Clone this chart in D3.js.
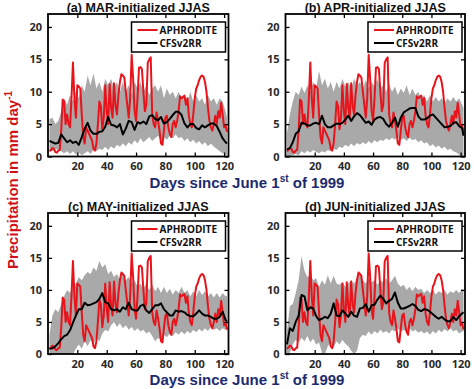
<!DOCTYPE html>
<html><head><meta charset="utf-8">
<script src="https://cdn.jsdelivr.net/npm/d3@7/dist/d3.min.js"></script>
<style>body{margin:0;background:#fff}svg{display:block}</style>
</head><body>
<svg id="c" width="474" height="389"></svg>
<script>
// ---------- DATA ----------
const days = d3.range(1, 123); // day index 1..122 (JJAS)
const bandDays = d3.range(1, 122, 2).concat([122]);
const xTicks = [20, 40, 60, 80, 100, 120];
const yTicks = [0, 5, 10, 15, 20];
const titles = ["(a) MAR-initialized JJAS", "(b) APR-initialized JJAS", "(c) MAY-initialized JJAS", "(d) JUN-initialized JJAS"];
const seriesNames = ["APHRODITE", "CFSv2RR"];

const aphrodite = [
  0.8,1.0,1.3,1.2,0.7,0.6,0.9,1.0,4.0,8.8,
  8.5,5.0,6.5,5.0,4.5,9.0,14.5,9.0,6.0,11.0,
  10.8,10.5,6.5,3.0,2.0,4.5,4.0,3.5,3.0,2.5,
  1.2,0.9,2.0,5.0,8.5,7.8,4.2,6.0,11.0,7.0,
  5.0,11.2,7.5,6.0,11.3,7.8,6.5,9.5,11.5,12.7,
  12.5,12.2,10.0,8.0,6.0,9.0,15.7,12.0,7.0,5.5,
  9.0,13.7,13.8,13.5,10.0,7.0,8.0,14.5,15.0,15.3,
  6.5,5.0,4.5,6.8,5.5,4.0,2.0,1.8,4.0,6.0,
  6.3,4.5,3.5,3.0,5.0,5.5,4.5,5.5,7.0,9.3,
  9.0,9.2,9.4,8.0,9.0,6.3,5.0,4.5,6.5,9.0,
  10.5,11.0,11.8,12.3,12.5,12.3,11.5,10.0,7.5,5.5,
  4.5,4.0,5.0,6.3,5.0,7.0,6.0,8.3,6.5,4.5,
  4.8,3.8];

// CFSv2RR ensemble mean (at bandDays)
const cfsMar = [2.4,2.2,2.0,2.1,3.4,2.8,2.2,2.5,2.1,2.3,1.8,3.0,4.3,5.2,4.0,3.5,3.5,3.8,3.9,4.6,6.1,4.9,4.8,4.5,5.0,3.4,4.3,5.5,5.3,4.1,5.3,5.1,5.4,5.0,6.2,6.4,5.8,5.6,6.1,5.1,5.3,5.8,6.4,6.9,6.9,6.4,5.1,4.5,5.0,5.0,4.4,4.2,4.8,4.5,4.8,5.1,5.1,4.7,3.8,2.8,2.2,2.0];
const cfsApr = [1.1,1.3,2.2,3.5,3.9,5.2,5.1,4.8,4.8,5.1,5.2,5.0,6.3,5.0,4.5,4.5,4.8,5.1,5.0,5.2,5.7,6.3,5.5,6.2,6.7,6.4,5.8,5.2,5.4,4.9,5.7,6.0,6.1,5.8,5.0,4.6,5.2,6.0,4.6,6.0,6.8,7.1,7.4,7.5,7.5,6.2,5.7,5.7,5.9,6.3,6.5,6.0,5.5,5.0,4.5,4.6,4.7,5.2,5.3,4.7,4.4,3.2];
const cfsMay = [0.8,0.9,1.2,1.7,2.3,2.8,3.0,3.7,4.9,6.0,7.0,7.0,8.0,7.6,7.7,7.9,8.1,8.6,9.5,8.1,7.9,7.0,6.8,7.0,6.6,7.3,7.0,8.0,7.0,6.8,6.8,7.5,7.7,6.8,6.4,7.0,7.6,7.6,7.9,7.0,6.5,6.0,6.0,6.8,6.6,6.7,6.5,6.1,5.9,5.9,6.3,6.8,6.3,6.0,6.0,5.8,5.5,5.5,5.8,6.6,5.3,5.1];
const cfsJun = [1.5,4.0,3.6,5.0,6.0,9.2,9.0,6.8,7.3,7.1,5.9,5.3,5.5,5.8,5.6,6.3,7.9,6.0,5.9,6.8,6.3,5.8,6.6,6.0,5.8,7.1,7.2,7.8,6.6,7.6,7.7,8.5,9.1,8.6,7.9,8.3,8.6,9.6,8.0,7.1,7.1,7.3,7.5,7.8,7.5,6.9,6.7,7.0,6.9,6.6,6.2,5.8,5.5,5.8,5.4,5.1,5.1,5.8,5.3,5.9,6.3,6.5];

// ensemble spread (lower / upper)
const lowMar = [1.0,0.8,1.2,1.0,0.8,0.5,0.8,0.4,0.8,0.3,0.6,0.2,0.5,0.8,0.4,1.0,0.8,1.2,1.0,1.5,1.0,1.6,1.2,1.8,1.5,2.0,1.6,2.2,1.8,2.5,2.0,2.8,2.2,2.6,3.0,2.4,2.8,3.2,2.5,3.0,2.6,3.2,2.8,3.4,2.8,3.0,2.4,2.8,2.2,2.6,2.0,2.4,1.8,2.2,1.6,2.0,1.5,1.2,0.8,0.5,0.3,0.2];
const upMar = [5.8,6.0,5.0,5.5,7.0,9.0,8.0,9.5,8.5,10.0,9.0,11.0,10.0,12.5,11.0,12.8,10.5,11.5,10.0,12.0,11.0,12.0,10.5,11.5,10.0,11.5,10.0,11.0,9.5,11.5,10.5,11.5,10.0,11.0,9.5,10.5,11.0,10.0,11.0,9.0,10.5,9.5,10.0,9.0,10.0,9.0,9.5,8.5,10.0,8.5,9.5,8.5,9.0,8.0,9.5,8.5,9.0,8.0,9.0,8.5,7.0,6.0];
const lowApr = [0.1,0.0,0.2,0.4,0.2,0.8,0.5,0.9,0.6,1.0,0.7,0.5,0.8,0.6,1.0,0.8,1.2,1.0,1.5,1.3,1.8,1.5,2.0,1.6,2.1,1.8,2.2,1.9,2.4,2.0,2.5,2.2,2.6,2.4,2.8,2.5,2.9,2.6,3.0,2.6,2.8,2.4,2.9,2.5,2.7,2.2,2.5,2.0,2.2,1.6,1.9,1.4,1.7,1.2,1.5,1.0,1.2,0.8,0.6,0.3,0.1,0.0];
const upApr = [3.5,6.5,8.5,10.0,9.5,10.8,9.8,11.0,10.0,11.5,10.5,13.2,11.0,12.0,10.5,11.5,10.0,11.5,10.5,12.0,10.8,11.5,10.5,12.0,11.0,11.5,10.5,11.8,10.5,11.5,10.8,12.0,10.5,11.0,10.0,11.2,10.0,10.8,9.5,10.5,9.8,11.0,9.5,10.5,9.5,10.0,9.0,9.5,8.5,9.5,8.5,9.2,8.5,9.0,8.2,9.0,8.5,9.2,8.5,9.0,8.0,7.5];
const lowMay = [0,0,0,0,0,0,0,0,0,0.8,1.5,0.8,2.0,1.2,2.2,1.5,2.5,2.0,3.2,3.8,3.5,4.5,5.0,4.2,4.8,4.0,4.5,3.8,4.2,3.6,4.0,3.5,3.8,3.2,3.5,2.8,2.0,2.5,2.2,3.0,2.6,3.2,2.8,3.4,3.0,3.5,3.1,3.6,3.2,3.8,3.4,3.9,3.5,4.0,3.6,4.2,3.8,4.0,3.6,4.0,3.8,3.8];
const upMay = [3.0,6.0,7.0,6.5,7.8,9.0,10.0,9.5,10.8,11.0,12.0,11.5,12.3,12.8,12.5,13.5,13.0,14.5,13.5,14.0,12.5,13.0,12.0,12.5,11.5,12.8,11.5,12.0,11.0,11.5,10.5,11.0,10.2,11.0,10.0,10.8,9.8,10.5,9.5,10.5,9.5,10.2,9.3,10.0,9.5,10.5,9.5,10.0,9.0,9.8,9.0,10.0,9.2,9.8,9.0,9.5,8.8,9.5,8.8,9.5,9.0,9.0];
const lowJun = [0,0.2,1.5,2.2,1.8,2.5,2.0,2.8,1.8,2.4,1.5,1.8,0.2,0.0,1.2,1.8,1.0,2.0,1.5,2.2,1.6,1.2,0.5,0.0,0.5,2.5,3.0,2.8,3.5,3.0,3.6,3.2,3.8,3.3,3.6,3.2,3.8,3.5,4.0,3.5,3.8,3.4,4.0,3.5,3.8,3.3,3.6,3.2,3.5,3.0,3.6,3.2,3.8,3.4,3.9,3.5,4.0,3.5,3.8,3.2,3.5,3.5];
const upJun = [3.5,7.5,7.8,9.5,11.5,15.3,13.0,12.0,12.3,11.5,11.8,10.5,11.5,10.8,12.3,11.0,12.2,11.0,10.8,11.2,10.5,11.0,11.5,11.0,11.8,12.5,11.5,11.0,11.8,11.2,11.5,10.8,11.5,11.2,11.8,11.0,11.5,12.2,11.0,10.5,10.8,10.0,10.5,9.8,10.5,10.0,10.2,9.5,10.0,9.5,10.0,9.3,9.8,9.5,10.0,9.3,9.8,9.5,10.0,9.5,10.2,10.0];

// ---------- LAYOUT / STYLE ----------
const boxes = [
  {l: 48, r: 228.5, t: 14, b: 156.5},
  {l: 285.5, r: 465, t: 14, b: 156.5},
  {l: 48, r: 228.5, t: 213, b: 354},
  {l: 285.5, r: 465, t: 213, b: 354}
];
const cfsList = [cfsMar, cfsApr, cfsMay, cfsJun];
const lowList = [lowMar, lowApr, lowMay, lowJun];
const upList = [upMar, upApr, upMay, upJun];
const RED = "#e8141c", GREY = "#a9a9a9";
const tickFont = "'Open Sans', sans-serif";
const arial = "'Liberation Sans', Arial, sans-serif";

const svg = d3.select("#c");
const defs = svg.append("defs");

boxes.forEach((bx, i) => {
  const x = d3.scaleLinear().domain([0, 123]).range([bx.l, bx.r]);
  const y = d3.scaleLinear().domain([0, 22]).range([bx.b, bx.t]);
  const g = svg.append("g");
  defs.append("clipPath").attr("id", "clip" + i)
    .append("rect").attr("x", bx.l).attr("y", bx.t).attr("width", bx.r - bx.l).attr("height", bx.b - bx.t);
  const pg = g.append("g").attr("clip-path", `url(#clip${i})`);

  const band = bandDays.map((d, k) => ({d, lo: lowList[i][k], hi: upList[i][k]}));
  pg.append("path").datum(band)
    .attr("d", d3.area().x(p => x(p.d)).y0(p => y(p.lo)).y1(p => y(p.hi)))
    .attr("fill", GREY).attr("stroke", "none");

  pg.append("path").datum(days.map((d, k) => [d, aphrodite[k]]))
    .attr("d", d3.line().x(p => x(p[0])).y(p => y(p[1])))
    .attr("fill", "none").attr("stroke", RED).attr("stroke-width", 2).attr("stroke-linejoin", "round");

  pg.append("path").datum(bandDays.map((d, k) => [d, cfsList[i][k]]))
    .attr("d", d3.line().x(p => x(p[0])).y(p => y(p[1])))
    .attr("fill", "none").attr("stroke", "#000").attr("stroke-width", 2).attr("stroke-linejoin", "round");

  // axes
  const ax = (sel) => {
    sel.select(".domain").remove();
    sel.selectAll(".tick line").attr("stroke", "#000").attr("stroke-width", 1.3);
    sel.selectAll(".tick text").attr("fill", "#2a2a2a").attr("font-family", tickFont)
      .attr("font-weight", 700).attr("font-size", 11);
  };
  g.append("g").attr("transform", `translate(0,${bx.b})`)
    .call(d3.axisBottom(x).tickValues(xTicks).tickSize(-4).tickPadding(6)).call(ax);
  g.append("g").attr("transform", `translate(0,${bx.t})`)
    .call(d3.axisTop(x).tickValues(xTicks).tickSize(-4).tickFormat("")).call(ax);
  g.append("g").attr("transform", `translate(${bx.l},0)`)
    .call(d3.axisLeft(y).tickValues(yTicks).tickSize(-4).tickPadding(6)).call(ax);
  g.append("g").attr("transform", `translate(${bx.r},0)`)
    .call(d3.axisRight(y).tickValues(yTicks).tickSize(-4).tickFormat("")).call(ax);

  g.append("rect").attr("x", bx.l).attr("y", bx.t).attr("width", bx.r - bx.l).attr("height", bx.b - bx.t)
    .attr("fill", "none").attr("stroke", "#000").attr("stroke-width", 1.8);

  // title
  g.append("text").attr("x", (bx.l + bx.r) / 2).attr("y", bx.t - 2.3)
    .attr("text-anchor", "middle").attr("font-family", arial).attr("font-weight", 700)
    .attr("font-size", 12.5).attr("fill", "#111").text(titles[i]);

  // legend
  const lx = bx.r - 97, ly = bx.t + 8, lw = 94, lh = 30;
  const lg = g.append("g");
  lg.append("rect").attr("x", lx).attr("y", ly).attr("width", lw).attr("height", lh)
    .attr("fill", "#fff").attr("stroke", "#000").attr("stroke-width", 1.5);
  [RED, "#000"].forEach((c, k) => {
    const yy = ly + 8 + k * 13;
    lg.append("line").attr("x1", lx + 6).attr("x2", lx + 26).attr("y1", yy).attr("y2", yy)
      .attr("stroke", c).attr("stroke-width", 2);
    lg.append("text").attr("x", lx + 28).attr("y", yy).attr("dy", "0.35em")
      .attr("font-family", tickFont).attr("font-weight", 700).attr("font-size", 10)
      .attr("fill", "#111").text(seriesNames[k]);
  });
});

// shared axis labels
const NAVY = "#1c2b70";
[188, 385.3].forEach(yy => {
  const t = svg.append("text").attr("x", 247).attr("y", yy).attr("text-anchor", "middle")
    .attr("font-family", arial).attr("font-weight", 700)
    .attr("font-size", 15).attr("fill", NAVY);
  t.append("tspan").text("Days since June 1");
  t.append("tspan").attr("dy", -6).attr("font-size", 10).text("st");
  t.append("tspan").attr("dy", 6).text(" of 1999");
});
const yl = svg.append("text").attr("transform", "translate(18,180) rotate(-90)")
  .attr("text-anchor", "middle").attr("font-family", arial)
  .attr("font-weight", 700).attr("font-size", 15).attr("fill", "#d01018");
yl.append("tspan").text("Precipitation in mm day");
yl.append("tspan").attr("dy", -6).attr("font-size", 10).text("-1");
</script>
</body></html>
